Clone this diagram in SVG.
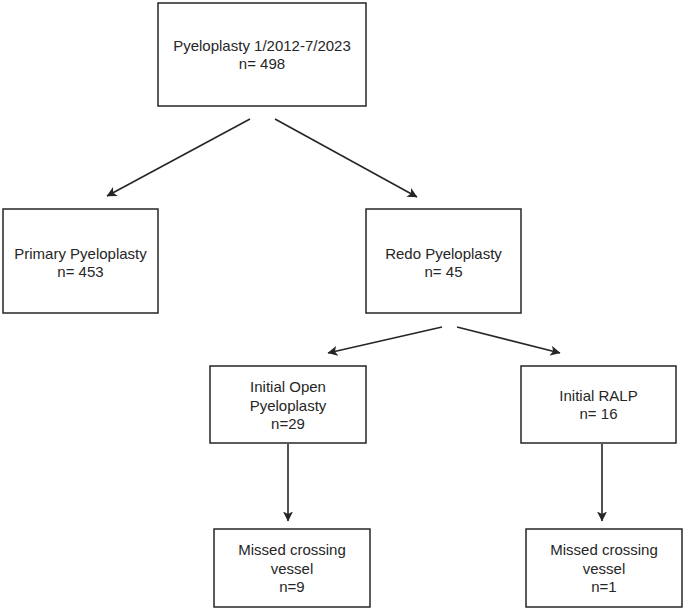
<svg xmlns="http://www.w3.org/2000/svg" width="685" height="610" viewBox="0 0 685 610">
<style>
.box{fill:#fff;stroke:#262626;stroke-width:1.5}
.t{font-family:"Liberation Sans",Arial,sans-serif;font-size:15px;fill:#262626;text-anchor:middle}
.c{stroke:#262626;stroke-width:1.6;fill:none;marker-end:url(#ah)}
</style>
<defs>
<marker id="ah" viewBox="0 0 10 10" refX="9.5" refY="5" markerWidth="10" markerHeight="10" markerUnits="userSpaceOnUse" orient="auto">
<path d="M0,0 L10,5 L0,10 L2.5,5 Z" fill="#262626"/>
</marker>
</defs>
<rect width="685" height="610" fill="#fff"/>
<g id="connectors">
<line class="c" x1="250" y1="119" x2="107" y2="196"/>
<line class="c" x1="275" y1="119" x2="417" y2="197"/>
<line class="c" x1="442" y1="327" x2="328" y2="353"/>
<line class="c" x1="457" y1="327" x2="560" y2="353"/>
<line class="c" x1="288" y1="444" x2="288" y2="521"/>
<line class="c" x1="602" y1="444" x2="602" y2="521"/>
</g>
<g id="n-total">
<rect class="box" x="158" y="3" width="208" height="103"/>
<text class="t" x="262" y="51">Pyeloplasty 1/2012-7/2023</text>
<text class="t" x="262" y="69">n= 498</text>
</g>
<g id="n-primary">
<rect class="box" x="3" y="209" width="155" height="104"/>
<text class="t" x="80.5" y="258.5">Primary Pyeloplasty</text>
<text class="t" x="80.5" y="276.5">n= 453</text>
</g>
<g id="n-redo">
<rect class="box" x="366" y="209" width="155" height="104"/>
<text class="t" x="443.5" y="258.5">Redo Pyeloplasty</text>
<text class="t" x="443.5" y="276.5">n= 45</text>
</g>
<g id="n-open">
<rect class="box" x="210" y="366" width="156" height="77"/>
<text class="t" x="288" y="392">Initial Open</text>
<text class="t" x="288" y="410.5">Pyeloplasty</text>
<text class="t" x="288" y="429">n=29</text>
</g>
<g id="n-ralp">
<rect class="box" x="521" y="366" width="155" height="77"/>
<text class="t" x="598.5" y="401">Initial RALP</text>
<text class="t" x="598.5" y="419">n= 16</text>
</g>
<g id="n-missed1">
<rect class="box" x="214" y="529" width="156" height="78"/>
<text class="t" x="292" y="555">Missed crossing</text>
<text class="t" x="292" y="573.5">vessel</text>
<text class="t" x="292" y="592">n=9</text>
</g>
<g id="n-missed2">
<rect class="box" x="526" y="529" width="156" height="78"/>
<text class="t" x="604" y="555">Missed crossing</text>
<text class="t" x="604" y="573.5">vessel</text>
<text class="t" x="604" y="592">n=1</text>
</g>
</svg>
